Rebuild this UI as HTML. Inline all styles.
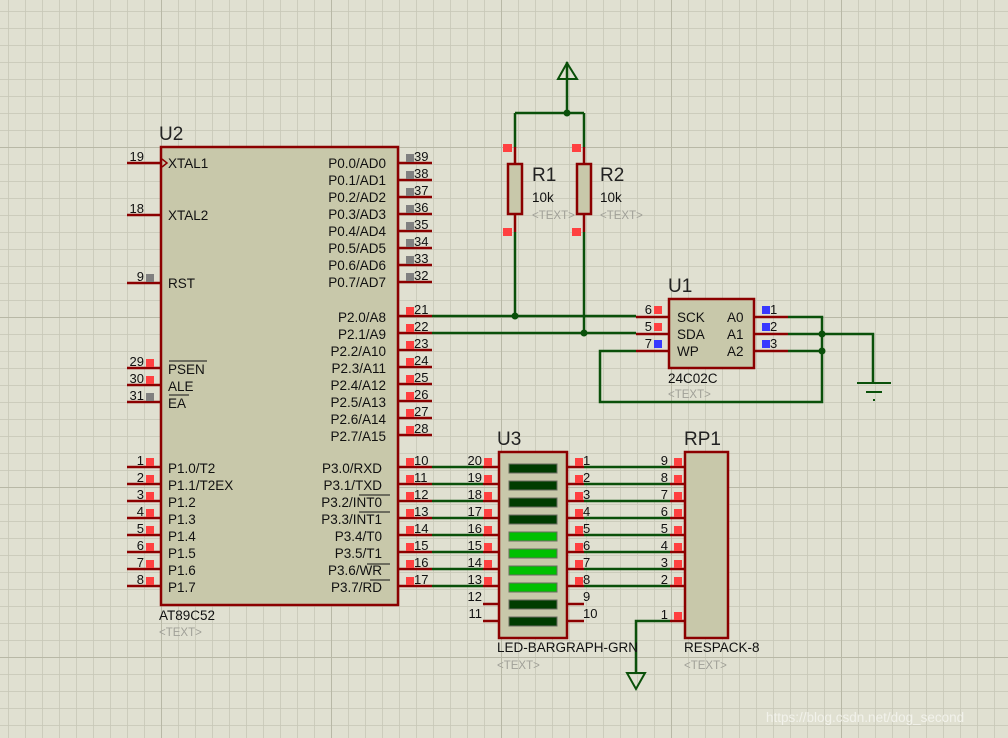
<!DOCTYPE html>
<html><head><meta charset="utf-8"><style>
html,body{margin:0;padding:0;background:#e0e0d1;}
svg{display:block;font-family:"Liberation Sans",sans-serif;}
.t{font-size:13.5px;fill:#111;}
.n{font-size:13px;fill:#111;}
.g{font-size:11.5px;fill:#a0a098;}
.big{font-size:19px;fill:#222;}
.pr{stroke:#8b0000;stroke-width:2.5;fill:none;}
.w{stroke:#0a500a;stroke-width:2.5;fill:none;}
.body{fill:#c8c8aa;stroke:#8b0000;stroke-width:2.5;}
.rs{fill:#ff4040;}
.gs{fill:#808080;}
.bs{fill:#3838ff;}
</style></head><body>
<svg width="1008" height="738" viewBox="0 0 1008 738" xmlns="http://www.w3.org/2000/svg">
<defs>
<pattern id="minor" x="8" y="11" width="17" height="17" patternUnits="userSpaceOnUse">
<path d="M0 0H17M0 0V17" stroke="#c6c6b6" stroke-width="1.5" fill="none"/>
</pattern>
<pattern id="major" x="161" y="147" width="170" height="170" patternUnits="userSpaceOnUse">
<path d="M0 0H170M0 0V170" stroke="#b8b8a6" stroke-width="2" fill="none"/>
</pattern>
</defs>
<rect width="1008" height="738" fill="#e0e0d1"/>
<rect width="1008" height="738" fill="url(#minor)"/>
<rect width="1008" height="738" fill="url(#major)"/>

<!-- U2 -->
<text x="159" y="140" class="big">U2</text>
<rect x="161" y="147" width="237" height="458" class="body"/>
<g class="pr">
<path d="M127 163H161M127 215H161M127 283H161M127 368H161M127 385H161M127 402H161"/>
<path d="M127 467H161M127 484H161M127 501H161M127 518H161M127 535H161M127 552H161M127 569H161M127 586H161"/>
<path d="M398 163H432M398 180H432M398 197H432M398 214H432M398 231H432M398 248H432M398 265H432M398 282H432"/>
<path d="M398 316H432M398 333H432M398 350H432M398 367H432M398 384H432M398 401H432M398 418H432M398 435H432"/>
<path d="M398 467H432M398 484H432M398 501H432M398 518H432M398 535H432M398 552H432M398 569H432M398 586H432"/>
<path d="M162 159L167 163L162 167" stroke-width="1.5"/>
</g>
<rect x="146" y="274" width="8" height="8" class="gs"/>
<rect x="146" y="359" width="8" height="8" class="rs"/>
<rect x="146" y="376" width="8" height="8" class="rs"/>
<rect x="146" y="393" width="8" height="8" class="gs"/>
<g class="rs">
<rect x="146" y="458" width="8" height="8"/><rect x="146" y="475" width="8" height="8"/><rect x="146" y="492" width="8" height="8"/><rect x="146" y="509" width="8" height="8"/>
<rect x="146" y="526" width="8" height="8"/><rect x="146" y="543" width="8" height="8"/><rect x="146" y="560" width="8" height="8"/><rect x="146" y="577" width="8" height="8"/>
</g>
<g class="gs">
<rect x="406" y="154" width="8" height="8"/><rect x="406" y="171" width="8" height="8"/><rect x="406" y="188" width="8" height="8"/><rect x="406" y="205" width="8" height="8"/>
<rect x="406" y="222" width="8" height="8"/><rect x="406" y="239" width="8" height="8"/><rect x="406" y="256" width="8" height="8"/><rect x="406" y="273" width="8" height="8"/>
</g>
<g class="rs">
<rect x="406" y="307" width="8" height="8"/><rect x="406" y="324" width="8" height="8"/><rect x="406" y="341" width="8" height="8"/><rect x="406" y="358" width="8" height="8"/>
<rect x="406" y="375" width="8" height="8"/><rect x="406" y="392" width="8" height="8"/><rect x="406" y="409" width="8" height="8"/><rect x="406" y="426" width="8" height="8"/>
<rect x="406" y="458" width="8" height="8"/><rect x="406" y="475" width="8" height="8"/><rect x="406" y="492" width="8" height="8"/><rect x="406" y="509" width="8" height="8"/>
<rect x="406" y="526" width="8" height="8"/><rect x="406" y="543" width="8" height="8"/><rect x="406" y="560" width="8" height="8"/><rect x="406" y="577" width="8" height="8"/>
</g>
<g class="n" text-anchor="end">
<text x="144" y="161">19</text><text x="144" y="213">18</text><text x="144" y="281">9</text>
<text x="144" y="366">29</text><text x="144" y="383">30</text><text x="144" y="400">31</text>
<text x="144" y="465">1</text><text x="144" y="482">2</text><text x="144" y="499">3</text><text x="144" y="516">4</text>
<text x="144" y="533">5</text><text x="144" y="550">6</text><text x="144" y="567">7</text><text x="144" y="584">8</text>
</g>
<g class="n">
<text x="414" y="161">39</text><text x="414" y="178">38</text><text x="414" y="195">37</text><text x="414" y="212">36</text>
<text x="414" y="229">35</text><text x="414" y="246">34</text><text x="414" y="263">33</text><text x="414" y="280">32</text>
<text x="414" y="314">21</text><text x="414" y="331">22</text><text x="414" y="348">23</text><text x="414" y="365">24</text>
<text x="414" y="382">25</text><text x="414" y="399">26</text><text x="414" y="416">27</text><text x="414" y="433">28</text>
<text x="414" y="465">10</text><text x="414" y="482">11</text><text x="414" y="499">12</text><text x="414" y="516">13</text>
<text x="414" y="533">14</text><text x="414" y="550">15</text><text x="414" y="567">16</text><text x="414" y="584">17</text>
</g>
<g class="t">
<text x="168" y="168">XTAL1</text><text x="168" y="220">XTAL2</text><text x="168" y="288">RST</text>
<text x="168" y="374">PSEN</text><text x="168" y="391">ALE</text><text x="168" y="408">EA</text>
<text x="168" y="473">P1.0/T2</text><text x="168" y="490">P1.1/T2EX</text><text x="168" y="507">P1.2</text><text x="168" y="524">P1.3</text>
<text x="168" y="541">P1.4</text><text x="168" y="558">P1.5</text><text x="168" y="575">P1.6</text><text x="168" y="592">P1.7</text>
</g>
<path d="M169 361H207M169 395H189" stroke="#111" stroke-width="1"/>
<g class="t" text-anchor="end">
<text x="386" y="168">P0.0/AD0</text><text x="386" y="185">P0.1/AD1</text><text x="386" y="202">P0.2/AD2</text><text x="386" y="219">P0.3/AD3</text>
<text x="386" y="236">P0.4/AD4</text><text x="386" y="253">P0.5/AD5</text><text x="386" y="270">P0.6/AD6</text><text x="386" y="287">P0.7/AD7</text>
<text x="386" y="322">P2.0/A8</text><text x="386" y="339">P2.1/A9</text><text x="386" y="356">P2.2/A10</text><text x="386" y="373">P2.3/A11</text>
<text x="386" y="390">P2.4/A12</text><text x="386" y="407">P2.5/A13</text><text x="386" y="424">P2.6/A14</text><text x="386" y="441">P2.7/A15</text>
<text x="382" y="473">P3.0/RXD</text><text x="382" y="490">P3.1/TXD</text><text x="382" y="507">P3.2/INT0</text><text x="382" y="524">P3.3/INT1</text>
<text x="382" y="541">P3.4/T0</text><text x="382" y="558">P3.5/T1</text><text x="382" y="575">P3.6/WR</text><text x="382" y="592">P3.7/RD</text>
</g>
<path d="M359 495H390M359 512H390M367 564H390M370 580H390" stroke="#111" stroke-width="1"/>
<text x="159" y="620" class="t">AT89C52</text>
<text x="159" y="636" class="g">&lt;TEXT&gt;</text>

<!-- Resistors & power -->
<g class="w">
<path d="M567 62V113M515 113H584M515 113V147M584 113V147"/>
<path d="M515 232V316M584 232V333"/>
<path d="M558 79H577L567 63Z" stroke-width="2"/>
<path d="M432 316H636M432 333H636"/>
</g>
<g class="pr"><path d="M515 147V164M515 214V232M584 147V164M584 214V232"/></g>
<rect x="508" y="164" width="14" height="50" class="body"/>
<rect x="577" y="164" width="14" height="50" class="body"/>
<rect x="503" y="144" width="9" height="8" class="rs"/><rect x="503" y="228" width="9" height="8" class="rs"/>
<rect x="572" y="144" width="9" height="8" class="rs"/><rect x="572" y="228" width="9" height="8" class="rs"/>
<text x="532" y="181" class="big">R1</text><text x="532" y="202" class="t">10k</text><text x="532" y="219" class="g">&lt;TEXT&gt;</text>
<text x="600" y="181" class="big">R2</text><text x="600" y="202" class="t">10k</text><text x="600" y="219" class="g">&lt;TEXT&gt;</text>
<g fill="#0a500a"><circle cx="567" cy="113" r="3.5"/><circle cx="515" cy="316" r="3.5"/><circle cx="584" cy="333" r="3.5"/>
<circle cx="822" cy="334" r="3.5"/><circle cx="822" cy="351" r="3.5"/></g>

<!-- U1 -->
<text x="668" y="292" class="big">U1</text>
<g class="pr"><path d="M636 317H669M636 334H669M636 351H669M754 317H788M754 334H788M754 351H788"/></g>
<g class="w">
<path d="M788 317H822V402H600V351H636M788 334H873V383M788 351H822"/>
<path d="M857 383H891" stroke-width="2"/><path d="M866 392H882" stroke-width="2"/><path d="M873 400H875" stroke-width="2"/>
</g>
<rect x="669" y="299" width="85" height="69" class="body"/>
<rect x="654" y="306" width="8" height="8" class="rs"/><rect x="654" y="323" width="8" height="8" class="rs"/><rect x="654" y="340" width="8" height="8" class="bs"/>
<rect x="762" y="306" width="8" height="8" class="bs"/><rect x="762" y="323" width="8" height="8" class="bs"/><rect x="762" y="340" width="8" height="8" class="bs"/>
<g class="n" text-anchor="end"><text x="652" y="314">6</text><text x="652" y="331">5</text><text x="652" y="348">7</text></g>
<g class="n"><text x="770" y="314">1</text><text x="770" y="331">2</text><text x="770" y="348">3</text></g>
<g class="t"><text x="677" y="322">SCK</text><text x="677" y="339">SDA</text><text x="677" y="356">WP</text>
<text x="727" y="322">A0</text><text x="727" y="339">A1</text><text x="727" y="356">A2</text>
<text x="668" y="383">24C02C</text></g>
<text x="668" y="398" class="g">&lt;TEXT&gt;</text>

<!-- U3 and RP1 wires -->
<g class="w">
<path d="M432 467H483M432 484H483M432 501H483M432 518H483M432 535H483M432 552H483M432 569H483M432 586H483"/>
<path d="M584 467H670M584 484H670M584 501H670M584 518H670M584 535H670M584 552H670M584 569H670M584 586H670"/>
<path d="M670 621H636V673"/>
<path d="M627 673H645L636 689Z" stroke-width="2"/>
</g>
<g class="pr">
<path d="M483 467H499M483 484H499M483 501H499M483 518H499M483 535H499M483 552H499M483 569H499M483 586H499M483 604H499M483 621H499"/>
<path d="M567 467H584M567 484H584M567 501H584M567 518H584M567 535H584M567 552H584M567 569H584M567 586H584M567 604H584M567 621H584"/>
<path d="M670 467H685M670 484H685M670 501H685M670 518H685M670 535H685M670 552H685M670 569H685M670 586H685M670 621H685"/>
</g>
<text x="497" y="445" class="big">U3</text>
<rect x="499" y="452" width="68" height="186" class="body"/>
<g stroke="#6a6a60" stroke-width="1">
<rect x="509" y="464" width="48" height="9" fill="#003c00"/>
<rect x="509" y="481" width="48" height="9" fill="#003c00"/>
<rect x="509" y="498" width="48" height="9" fill="#003c00"/>
<rect x="509" y="515" width="48" height="9" fill="#003c00"/>
<rect x="509" y="532" width="48" height="9" fill="#00c000"/>
<rect x="509" y="549" width="48" height="9" fill="#00c000"/>
<rect x="509" y="566" width="48" height="9" fill="#00c000"/>
<rect x="509" y="583" width="48" height="9" fill="#00c000"/>
<rect x="509" y="600" width="48" height="9" fill="#003c00"/>
<rect x="509" y="617" width="48" height="9" fill="#003c00"/>
</g>
<g class="rs">
<rect x="484" y="458" width="8" height="8"/><rect x="484" y="475" width="8" height="8"/><rect x="484" y="492" width="8" height="8"/><rect x="484" y="509" width="8" height="8"/>
<rect x="484" y="526" width="8" height="8"/><rect x="484" y="543" width="8" height="8"/><rect x="484" y="560" width="8" height="8"/><rect x="484" y="577" width="8" height="8"/>
<rect x="575" y="458" width="8" height="8"/><rect x="575" y="475" width="8" height="8"/><rect x="575" y="492" width="8" height="8"/><rect x="575" y="509" width="8" height="8"/>
<rect x="575" y="526" width="8" height="8"/><rect x="575" y="543" width="8" height="8"/><rect x="575" y="560" width="8" height="8"/><rect x="575" y="577" width="8" height="8"/>
<rect x="674" y="458" width="8" height="8"/><rect x="674" y="475" width="8" height="8"/><rect x="674" y="492" width="8" height="8"/><rect x="674" y="509" width="8" height="8"/>
<rect x="674" y="526" width="8" height="8"/><rect x="674" y="543" width="8" height="8"/><rect x="674" y="560" width="8" height="8"/><rect x="674" y="577" width="8" height="8"/>
<rect x="674" y="612" width="8" height="8"/>
</g>
<g class="n" text-anchor="end">
<text x="482" y="465">20</text><text x="482" y="482">19</text><text x="482" y="499">18</text><text x="482" y="516">17</text>
<text x="482" y="533">16</text><text x="482" y="550">15</text><text x="482" y="567">14</text><text x="482" y="584">13</text>
<text x="482" y="601">12</text><text x="482" y="618">11</text>
<text x="668" y="465">9</text><text x="668" y="482">8</text><text x="668" y="499">7</text><text x="668" y="516">6</text>
<text x="668" y="533">5</text><text x="668" y="550">4</text><text x="668" y="567">3</text><text x="668" y="584">2</text>
<text x="668" y="619">1</text>
</g>
<g class="n">
<text x="583" y="465">1</text><text x="583" y="482">2</text><text x="583" y="499">3</text><text x="583" y="516">4</text>
<text x="583" y="533">5</text><text x="583" y="550">6</text><text x="583" y="567">7</text><text x="583" y="584">8</text>
<text x="583" y="601">9</text><text x="583" y="618">10</text>
</g>
<text x="497" y="652" class="t">LED-BARGRAPH-GRN</text>
<text x="497" y="669" class="g">&lt;TEXT&gt;</text>
<text x="684" y="445" class="big">RP1</text>
<rect x="685" y="452" width="43" height="186" class="body"/>
<text x="684" y="652" class="t">RESPACK-8</text>
<text x="684" y="669" class="g">&lt;TEXT&gt;</text>

<text x="766" y="722" font-size="13.5" fill="#f4f4ee" opacity="0.9">https://blog.csdn.net/dog_second</text>
</svg>
</body></html>
